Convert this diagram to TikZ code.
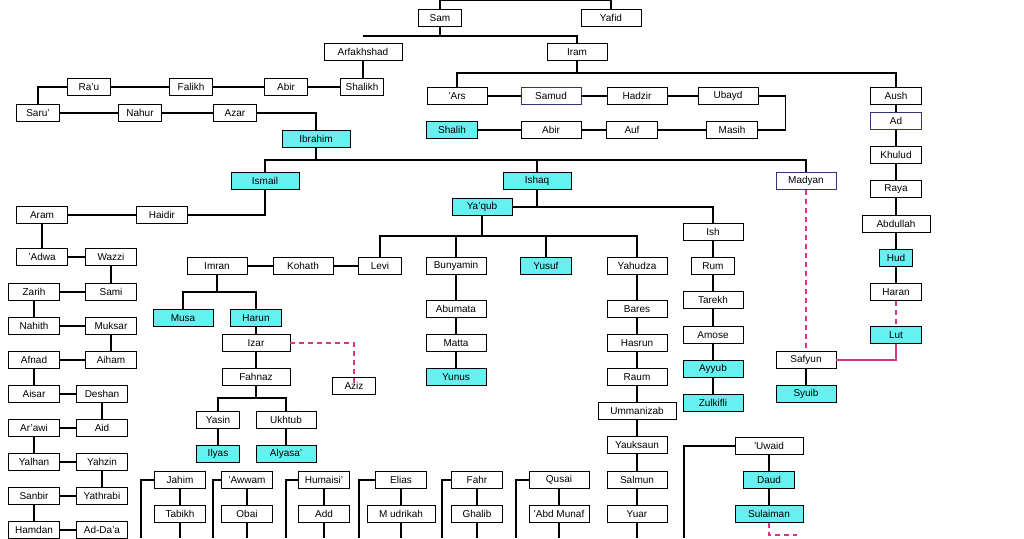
\documentclass[tikz,border=0pt]{standalone}
\usepackage{fontspec}
\setmainfont{Liberation Sans}
\definecolor{cy}{HTML}{66F0F0}
\definecolor{pk}{HTML}{DD3388}
\definecolor{bb}{HTML}{333377}
\begin{document}
\begin{tikzpicture}[x=1pt,y=-1pt,
  b/.style={draw=black,line width=0.6pt,fill=white,minimum height=17pt,inner sep=0pt,font=\fontsize{10}{11}\selectfont},
  c/.style={b,fill=cy},
  u/.style={b,draw=bb},
  e/.style={line width=1.6pt},
  p/.style={draw=pk,line width=1.4pt,dash pattern=on 5pt off 4pt},
  w1/.style={minimum width=43pt},w2/.style={minimum width=51pt},w3/.style={minimum width=60pt},w4/.style={minimum width=68pt},w5/.style={minimum width=78pt}]
\useasboundingbox (0,0) rectangle (1024,538);
% nodes
\node[b,w1] (Sam) at (440,18) {Sam};
\node[b,w3] (Yafid) at (611,18) {Yafid};
\node[b,w5] (Arf) at (363,52) {Arfakhshad};
\node[b,w3] (Iram) at (577,52) {Iram};
\node[b,w1] (Shalikh) at (362,87) {Shalikh};
\node[b,w1] (Abir1) at (286,87) {Abir};
\node[b,w1] (Falikh) at (191,87) {Falikh};
\node[b,w1] (Rau) at (89,87) {Ra'u};
\node[b,w1] (Saru) at (38,113) {Saru'};
\node[b,w1] (Nahur) at (140,113) {Nahur};
\node[b,w1] (Azar) at (235,113) {Azar};
\node[c,w4] (Ibrahim) at (316,139) {Ibrahim};
\node[c,w4] (Ismail) at (265,181) {Ismail};
\node[c,w4] (Ishaq) at (537,181) {Ishaq};
\node[u,w3] (Madyan) at (806,181) {Madyan};
\node[b,w2] (Haidir) at (162,215) {Haidir};
\node[b,w2] (Aram) at (42,215) {Aram};
\node[b,w2] (Adwa) at (42,257) {'Adwa};
\node[b,w2] (Wazzi) at (111,257) {Wazzi};
\node[b,w2] (Sami) at (111,292) {Sami};
\node[b,w2] (Zarih) at (34,292) {Zarih};
\node[b,w2] (Nahith) at (34,326) {Nahith};
\node[b,w2] (Muksar) at (111,326) {Muksar};
\node[b,w2] (Aiham) at (111,360) {Aiham};
\node[b,w2] (Afnad) at (34,360) {Afnad};
\node[b,w2] (Aisar) at (34,394) {Aisar};
\node[b,w2] (Deshan) at (102,394) {Deshan};
\node[b,w2] (Aid) at (102,428) {Aid};
\node[b,w2] (Arawi) at (34,428) {Ar'awi};
\node[b,w2] (Yalhan) at (34,462) {Yalhan};
\node[b,w2] (Yahzin) at (102,462) {Yahzin};
\node[b,w2] (Yathrabi) at (102,496) {Yathrabi};
\node[b,w2] (Sanbir) at (34,496) {Sanbir};
\node[b,w2] (Hamdan) at (34,530) {Hamdan};
\node[b,w2] (Adda) at (102,530) {Ad-Da'a};
\node[c,w3] (Yaqub) at (482,207) {Ya'qub};
\node[b,w3] (Ish) at (713,232) {Ish};
\node[b,w1] (Levi) at (380,266) {Levi};
\node[b,w3] (Bunyamin) at (456,266) {Bunyamin};
\node[b,w3] (Abumata) at (456,309) {Abumata};
\node[b,w3] (Matta) at (456,343) {Matta};
\node[c,w3] (Yunus) at (456,377) {Yunus};
\node[c,w2] (Yusuf) at (546,266) {Yusuf};
\node[b,w3] (Yahudza) at (637,266) {Yahudza};
\node[b,w3] (Kohath) at (303,266) {Kohath};
\node[b,w3] (Imran) at (217,266) {Imran};
\node[c,w3] (Musa) at (183,318) {Musa};
\node[c,w2] (Harun) at (256,318) {Harun};
\node[b,w4] (Izar) at (256,343) {Izar};
\node[b,w1] (Aziz) at (354,386) {Aziz};
\node[b,w4] (Fahnaz) at (256,377) {Fahnaz};
\node[b,w1] (Yasin) at (218,420) {Yasin};
\node[b,w3] (Ukhtub) at (286,420) {Ukhtub};
\node[c,w1] (Ilyas) at (218,454) {Ilyas};
\node[c,w3] (Alyasa) at (286,454) {Alyasa'};
\node[b,w2] (Jahim) at (180,480) {Jahim};
\node[b,w2] (Tabikh) at (180,514) {Tabikh};
\node[b,w2] (Awwam) at (247,480) {'Awwam};
\node[b,w2] (Obai) at (247,514) {Obai};
\node[b,w2] (Humaisi) at (324,480) {Humaisi'};
\node[b,w2] (Add) at (324,514) {Add};
\node[b,w2] (Elias) at (401,480) {Elias};
\node[b,w4] (Mudrikah) at (401,514) {M udrikah};
\node[b,w2] (Fahr) at (477,480) {Fahr};
\node[b,w2] (Ghalib) at (477,514) {Ghalib};
\node[b,w3] (Qusai) at (559,480) {Qusai};
\node[b,w3] (AbdMunaf) at (559,514) {'Abd Munaf};
\node[b,w3] (Bares) at (637,309) {Bares};
\node[b,w3] (Hasrun) at (637,343) {Hasrun};
\node[b,w3] (Raum) at (637,377) {Raum};
\node[b,w5] (Umm) at (637,411) {Ummanizab};
\node[b,w3] (Yauk) at (637,445) {Yauksaun};
\node[b,w3] (Salmun) at (637,480) {Salmun};
\node[b,w3] (Yuar) at (637,514) {Yuar};
\node[b,w1] (Rum) at (713,266) {Rum};
\node[b,w3] (Tarekh) at (713,300) {Tarekh};
\node[b,w3] (Amose) at (713,335) {Amose};
\node[c,w3] (Ayyub) at (713,369) {Ayyub};
\node[c,w3] (Zulkifli) at (713,403) {Zulkifli};
\node[b,w4] (Uwaid) at (769,446) {'Uwaid};
\node[c,w2] (Daud) at (769,480) {Daud};
\node[c,w4] (Sulaiman) at (769,514) {Sulaiman};
\node[b,w3] (Safyun) at (806,360) {Safyun};
\node[c,w3] (Syuib) at (806,394) {Syuib};
\node[b,w3] (Ars) at (457,96) {'Ars};
\node[u,w3] (Samud) at (551,96) {Samud};
\node[b,w3] (Hadzir) at (637,96) {Hadzir};
\node[b,w3] (Ubayd) at (728,96) {Ubayd};
\node[b,w2] (Masih) at (732,130) {Masih};
\node[b,w2] (Auf) at (632,130) {Auf};
\node[b,w3] (Abir2) at (551,130) {Abir};
\node[c,w2] (Shalih) at (452,130) {Shalih};
\node[b,w2] (Aush) at (896,96) {Aush};
\node[u,w2] (Ad) at (896,121) {Ad};
\node[b,w2] (Khulud) at (896,155) {Khulud};
\node[b,w2] (Raya) at (896,189) {Raya};
\node[b,w4] (Abdullah) at (896,224) {Abdullah};
\node[c,minimum width=33pt] (Hud) at (896,258) {Hud};
\node[b,w2] (Haran) at (896,292) {Haran};
\node[c,w2] (Lut) at (896,335) {Lut};
% free ends
\foreach \n/\x in {j/141,a/213,h/286,l/359,f/442,q/516,w/684}{\coordinate (\n) at (\x,538);}
\coordinate (s1) at (797,535);
% edges
\draw[e] (Sam.north) -- ++(0,-9) -| (Yafid.north);
\draw[e] (Arf.north |- 0,36) -| (Iram.north);
\draw[e] (Sam.south) -- ++(0,9);
\draw[e] (Arf.south) -- (Arf.south |- Shalikh.north);
\draw[e] (Shalikh.west) -- (Abir1.east) (Abir1.west) -- (Falikh.east) (Falikh.west) -- (Rau.east);
\draw[e] (Rau.west) -| (Saru.north);
\draw[e] (Saru.east) -- (Nahur.west) (Nahur.east) -- (Azar.west);
\draw[e] (Azar.east) -| (Ibrahim.north);
\draw[e] (Ibrahim.south) -- ++(0,13);
\draw[e] (Ismail.north) -- ++(0,-12.5) -| (Madyan.north);
\draw[e] (Ishaq.north) -- ++(0,-12.5);
\draw[e] (Ismail.south) |- (Haidir.east);
\draw[e] (Aram.east) -- (Haidir.west);
\draw[e] (Aram.south) -- (Adwa.north);
\draw[e] (Adwa.east) -- (Wazzi.west);
\draw[e] (Wazzi.south) -- (Sami.north);
\draw[e] (Sami.west) -- (Zarih.east);
\draw[e] (Zarih.south) -- (Nahith.north);
\draw[e] (Nahith.east) -- (Muksar.west);
\draw[e] (Muksar.south) -- (Aiham.north);
\draw[e] (Aiham.west) -- (Afnad.east);
\draw[e] (Afnad.south) -- (Aisar.north);
\draw[e] (Aisar.east) -- (Deshan.west);
\draw[e] (Deshan.south) -- (Aid.north);
\draw[e] (Aid.west) -- (Arawi.east);
\draw[e] (Arawi.south) -- (Yalhan.north);
\draw[e] (Yalhan.east) -- (Yahzin.west);
\draw[e] (Yahzin.south) -- (Yathrabi.north);
\draw[e] (Yathrabi.west) -- (Sanbir.east);
\draw[e] (Sanbir.south) -- (Hamdan.north);
\draw[e] (Hamdan.east) -- (Adda.west);
\draw[e] (Ishaq.south) -- (Ishaq.south |- Yaqub.east);
\draw[e] (Ish.north) |- (Yaqub.east);
\draw[e] (Yaqub.south) -- ++(0,21);
\draw[e] (Levi.north) -- ++(0,-21) -| (Yahudza.north);
\draw[e] (Bunyamin.north) -- ++(0,-21);
\draw[e] (Yusuf.north) -- ++(0,-21);
\draw[e] (Imran.east) -- (Kohath.west) (Kohath.east) -- (Levi.west);
\draw[e] (Imran.south) -- ++(0,17);
\draw[e] (Musa.north) -- ++(0,-17) -| (Harun.north);
\draw[e] (Harun.south) -- (Izar.north);
\draw[e] (Izar.south) -- (Fahnaz.north);
\draw[p] (Izar.east) -| ([yshift=-7pt]Aziz.north);
\draw[e] (Fahnaz.south) -- ++(0,12);
\draw[e] (Yasin.north) -- ++(0,-13) -| (Ukhtub.north);
\draw[e] (Yasin.south) -- (Ilyas.north);
\draw[e] (Ukhtub.south) -- (Alyasa.north);
\draw[e] (Bunyamin.south) -- (Abumata.north) (Abumata.south) -- (Matta.north) (Matta.south) -- (Yunus.north);
\foreach \a/\bb/\cc in {Jahim/Tabikh/j,Awwam/Obai/a,Humaisi/Add/h,Elias/Mudrikah/l,Fahr/Ghalib/f,Qusai/AbdMunaf/q}{
  \draw[e] (\a.west) -| (\cc);
  \draw[e] (\a.south) -- (\bb.north);
  \draw[e] (\bb.south) -- (\bb.south |- 0,538);
}
\draw[e] (Yahudza.south) -- (Bares.north) (Bares.south) -- (Hasrun.north) (Hasrun.south) -- (Raum.north) (Raum.south) -- (Umm.north) (Umm.south) -- (Yauk.north) (Yauk.south) -- (Salmun.north) (Salmun.south) -- (Yuar.north) (Yuar.south) -- (Yuar.south |- 0,538);
\draw[e] (Ish.south) -- (Rum.north) (Rum.south) -- (Tarekh.north) (Tarekh.south) -- (Amose.north) (Amose.south) -- (Ayyub.north) (Ayyub.south) -- (Zulkifli.north);
\draw[e] (Uwaid.west) -| (w);
\draw[e] (Uwaid.south) -- (Daud.north) (Daud.south) -- (Sulaiman.north);
\draw[p] (Sulaiman.south) |- (s1);
\draw[p] (Madyan.south) -- (Safyun.north);
\draw[e] (Safyun.south) -- (Syuib.north);
\draw[draw=pk,line width=1.4pt] (Safyun.east) -| (Lut.south);
\draw[p] (Haran.south) -- (Lut.north);
\draw[e] (Iram.south) -- ++(0,12);
\draw[e] (Ars.north) -- ++(0,-14) -| (Aush.north);
\draw[e] (Ars.east) -- (Samud.west) (Samud.east) -- (Hadzir.west) (Hadzir.east) -- (Ubayd.west);
\draw[e] (Ubayd.east) -- ++(27,0) |- (Masih.east);
\draw[e] (Shalih.east) -- (Abir2.west) (Abir2.east) -- (Auf.west) (Auf.east) -- (Masih.west);
\draw[e] (Aush.south) -- (Ad.north) (Ad.south) -- (Khulud.north) (Khulud.south) -- (Raya.north) (Raya.south) -- (Abdullah.north) (Abdullah.south) -- (Hud.north) (Hud.south) -- (Haran.north);
\end{tikzpicture}
\end{document}
